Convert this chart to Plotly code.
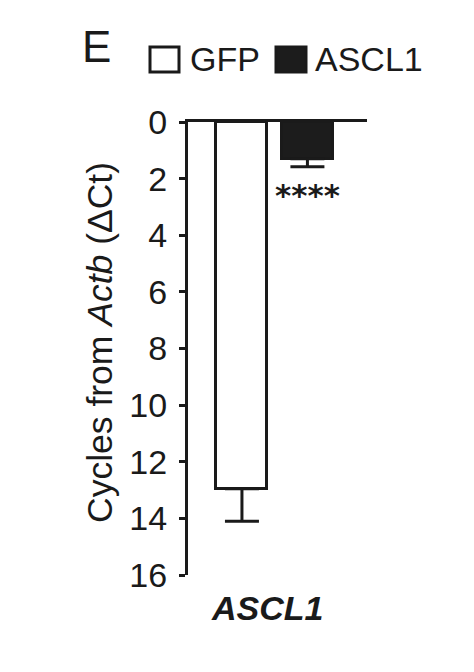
import plotly.graph_objects as go

# ---- data ----
categories = ["GFP", "ASCL1"]
x_pos = [0, 1]
delta_ct = [12.95, 1.3]
sem = [1.15, 0.28]
bar_colors = ["white", "#1c1c1c"]
y_ticks = [0, 2, 4, 6, 8, 10, 12, 14, 16]
gene_label = "ASCL1"
signif = "****"

# page body has an 8px margin: size the figure to fill the rest of the window
OFF = 8
W, H = 474 - OFF, 672 - OFF
L, R, T, B = 188, 367, 122, 575  # plot area in screenshot pixels

def px(xs):
    return (xs - L) / (R - L)

def py(ys):
    return (B - ys) / (B - T)

FONT = "Liberation Sans, Arial, sans-serif"
INK = "#1a1a1a"

fig = go.Figure()
for i, cat in enumerate(categories):
    fig.add_trace(go.Bar(
        x=[x_pos[i]], y=[delta_ct[i]], name=cat,
        width=0.78,
        marker=dict(color=bar_colors[i], line=dict(color=INK, width=3)),
        error_y=dict(type="data", array=[sem[i]], arrayminus=[0], symmetric=False,
                     color=INK, thickness=3, width=17),
        showlegend=False,
    ))

fig.update_layout(
    width=W, height=H,
    margin=dict(l=L - OFF, r=W - (R - OFF), t=T - OFF, b=H - (B - OFF), pad=0),
    paper_bgcolor="white", plot_bgcolor="white",
    font=dict(family=FONT, color=INK),
    bargap=0,
    xaxis=dict(range=[-0.824, 1.91], side="top", showline=True, linecolor=INK,
               linewidth=3, showticklabels=False, ticks="", showgrid=False,
               zeroline=False, fixedrange=True),
    yaxis=dict(range=[16, 0], tickvals=y_ticks, showline=True, linecolor=INK,
               linewidth=3, ticks="outside", ticklen=6, tickwidth=2.5,
               tickcolor=INK, tickfont=dict(size=34, family=FONT, color=INK),
               ticklabelstandoff=5, showgrid=False, zeroline=False),
)

annotations = [
    dict(text="E", x=px(96), y=py(46), xref="paper", yref="paper",
         showarrow=False, font=dict(size=44, family=FONT, color=INK),
         xanchor="center", yanchor="middle"),
    dict(text=categories[0], x=px(188), y=py(59), xref="paper", yref="paper",
         showarrow=False, font=dict(size=34, family=FONT, color=INK),
         xanchor="left", yanchor="middle"),
    dict(text=categories[1], x=px(313), y=py(59), xref="paper", yref="paper",
         showarrow=False, font=dict(size=34, family=FONT, color=INK),
         xanchor="left", yanchor="middle"),
    dict(text="Cycles from <i>Actb</i> (ΔCt)", x=px(100), y=py(343),
         xref="paper", yref="paper", showarrow=False, textangle=-90,
         font=dict(size=35.5, family=FONT, color=INK),
         xanchor="center", yanchor="middle"),
    dict(text="<b><i>" + gene_label + "</i></b>", x=px(267), y=py(608),
         xref="paper", yref="paper", showarrow=False,
         font=dict(size=34, family=FONT, color=INK),
         xanchor="center", yanchor="middle"),
    dict(text="<b>" + signif + "</b>", x=x_pos[1], y=delta_ct[1] + sem[1],
         xref="x", yref="y", showarrow=False,
         font=dict(size=31, family="DejaVu Sans", color=INK),
         xanchor="center", yanchor="top", yshift=-8),
]
fig.update_layout(annotations=annotations)

shapes = [
    dict(type="rect", xref="paper", yref="paper", x0=px(150), x1=px(179),
         y0=py(72), y1=py(47), fillcolor="white", line=dict(color=INK, width=3)),
    dict(type="rect", xref="paper", yref="paper", x0=px(276), x1=px(306),
         y0=py(72), y1=py(47), fillcolor="#1c1c1c", line=dict(color=INK, width=3)),
]
fig.update_layout(shapes=shapes)

fig.write_html("out.html")
